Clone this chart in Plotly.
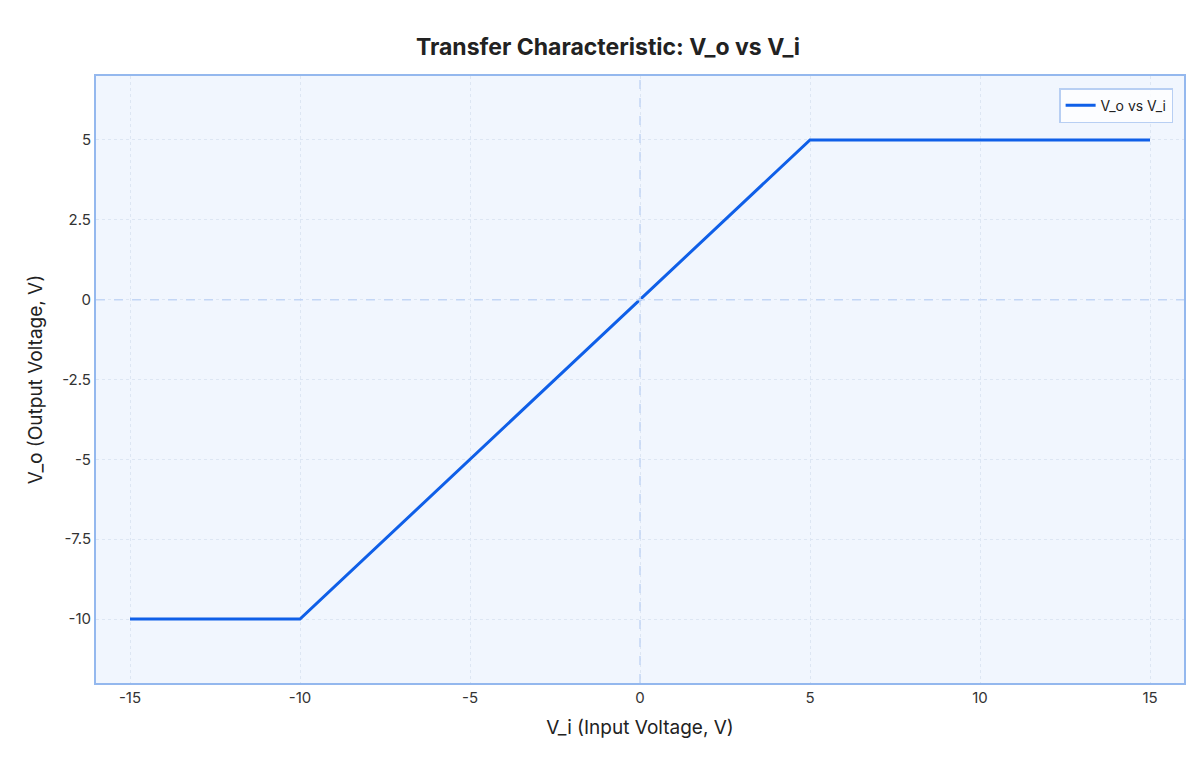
import plotly.graph_objects as go

vi = [-15, -10, 5, 15]
vo = [-10, -10, 5, 5]
xticks = [-15, -10, -5, 0, 5, 10, 15]
xtext = ["-15", "-10", "-5", "0", "5", "10", "15"]
yticks = [-10, -7.5, -5, -2.5, 0, 2.5, 5]
ytext = ["-10", "-7.5", "-5", "-2.5", "0", "2.5", "5"]

fig = go.Figure()
fig.add_trace(go.Scatter(x=vi, y=vo, mode="lines", name="V_o vs V_i", showlegend=True,
                         line=dict(color="#0f5fe8", width=3)))
fig.add_hline(y=0, line=dict(color="#c3d6f5", width=1.5, dash="dash"))
fig.add_vline(x=0, line=dict(color="#c3d6f5", width=1.5, dash="dash"))
ax = dict(showline=True, linecolor="#94b8ee", linewidth=2, mirror=True,
          gridcolor="#dde6f3", griddash="dot", zeroline=False, ticks="",
          tickfont=dict(size=15, color="#333"))
fig.update_layout(
    width=1200, height=760, paper_bgcolor="white", plot_bgcolor="#f1f6fe",
    font=dict(family="Inter, sans-serif", color="#222"),
    title=dict(text="<b>Transfer Characteristic: V_o vs V_i</b>", x=0.5, y=0.96,
               font=dict(size=23, color="#222")),
    margin=dict(l=88, r=24, t=68, b=85),
    xaxis=dict(range=[-16, 16], tickvals=xticks, ticktext=xtext, title=dict(text="V_i (Input Voltage, V)", font=dict(size=19)), **ax),
    yaxis=dict(range=[-12, 7], tickvals=yticks, ticktext=ytext, title=dict(text="V_o (Output Voltage, V)", font=dict(size=19)), **ax),
    showlegend=True,
    legend=dict(x=0.99, y=0.98, xanchor="right", yanchor="top", bgcolor="rgba(255,255,255,0.8)",
                bordercolor="#b8cff3", borderwidth=1.5, font=dict(size=14)),
)
fig.write_html("out.html")
